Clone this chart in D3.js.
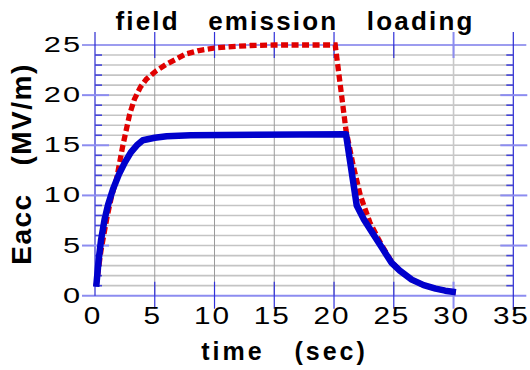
<!DOCTYPE html>
<html>
<head>
<meta charset="utf-8">
<script src="https://cdn.jsdelivr.net/npm/d3@7"></script>
<style>
  html, body { margin: 0; padding: 0; background: #fff; }
  svg { display: block; font-family: "Liberation Sans", Arial, sans-serif; }
</style>
</head>
<body>
<svg id="chart" width="530" height="370"></svg>
<script>
// values
const blueTime = [0.1, 0.3, 0.5, 0.8, 1.1, 1.5, 2, 2.5, 3, 3.5, 4, 5, 6, 8, 21, 21.9, 22.5, 23.3, 24, 24.8, 25.5, 26.5, 27.5, 28.5, 29.3, 30.2];
const blueEacc = [0.9, 3.5, 5.5, 7.6, 9.1, 10.6, 12.1, 13.3, 14.3, 15, 15.5, 15.75, 15.9, 16, 16.1, 9, 7.6, 6.1, 4.8, 3.3, 2.5, 1.6, 1.05, 0.7, 0.5, 0.35];

const redTime = [0.1, 0.5, 1, 1.4, 1.8, 2.3, 2.9, 3.3, 3.8, 4.3, 5.1, 6, 6.8, 7.6, 8.7, 10, 11, 13, 15, 20.1, 21, 21.6, 22.2, 23, 24, 24.8, 25.5, 26.5, 27.5, 28.5, 29.3, 30.2];
const redEacc = [1, 4.5, 7.8, 10, 11.6, 14.8, 18.1, 19.6, 20.8, 21.6, 22.4, 23.1, 23.6, 24.1, 24.45, 24.7, 24.8, 24.95, 25, 25, 16.5, 13, 10, 7.3, 5, 3.4, 2.5, 1.6, 1.05, 0.7, 0.5, 0.35];

const xTicks = [0, 5, 10, 15, 20, 25, 30, 35];
const yTicks = [0, 5, 10, 15, 20, 25];
const yMinor = d3.range(1, 25);

const svg = d3.select("#chart");

const x = d3.scaleLinear().domain([0, 35]).range([95, 513.3]);
const y = d3.scaleLinear().domain([0, 25]).range([295.7, 45]);

const xLeft = x(0), xRight = x(35), yTop = y(25), yBottom = y(0);

// horizontal grid
svg.append("g")
  .selectAll("line")
  .data(yMinor)
  .join("line")
  .attr("x1", xLeft).attr("x2", xRight)
  .attr("y1", d => y(d)).attr("y2", d => y(d))
  .attr("stroke", "#c4c4c4")
  .attr("stroke-width", 1.6);

// vertical grid
svg.append("g")
  .selectAll("line")
  .data(xTicks.filter(d => d > 0 && d < 35))
  .join("line")
  .attr("x1", d => x(d)).attr("x2", d => x(d))
  .attr("y1", yTop).attr("y2", yBottom)
  .attr("stroke", d => d === 30 ? "#c8c8c8" : "#9a9a9a")
  .attr("stroke-width", d => d === 30 ? 1.6 : 1);

// frame
svg.append("line")
  .attr("x1", xLeft - 13).attr("x2", xRight + 13)
  .attr("y1", yTop).attr("y2", yTop)
  .attr("stroke", "#3a3ae0").attr("stroke-width", 1.2);
svg.append("line")
  .attr("x1", xLeft - 13).attr("x2", xRight + 13)
  .attr("y1", yBottom).attr("y2", yBottom)
  .attr("stroke", "#8c8cf0").attr("stroke-width", 2);
svg.append("line")
  .attr("x1", xLeft).attr("x2", xLeft)
  .attr("y1", yTop - 13).attr("y2", yBottom)
  .attr("stroke", "#2a2ad0").attr("stroke-width", 1.2);
svg.append("line")
  .attr("x1", xRight).attr("x2", xRight)
  .attr("y1", yTop - 13).attr("y2", yBottom + 14)
  .attr("stroke", "#2a2ad0").attr("stroke-width", 1.2);

// minor y ticks, left and right, pointing inside
const minorTicks = yMinor.filter(d => d % 5 !== 0);
svg.append("g")
  .selectAll("line")
  .data(minorTicks)
  .join("line")
  .attr("x1", xLeft).attr("x2", xLeft + 7)
  .attr("y1", d => y(d)).attr("y2", d => y(d))
  .attr("stroke", "#4444d8").attr("stroke-width", 1.6);
svg.append("g")
  .selectAll("line")
  .data(minorTicks)
  .join("line")
  .attr("x1", xRight - 7).attr("x2", xRight)
  .attr("y1", d => y(d)).attr("y2", d => y(d))
  .attr("stroke", "#4444d8").attr("stroke-width", 1.6);

// major y ticks crossing both side axes
const majorY = yTicks.filter(d => d > 0 && d < 25);
svg.append("g")
  .selectAll("line")
  .data(majorY)
  .join("line")
  .attr("x1", xLeft - 13).attr("x2", xLeft + 14)
  .attr("y1", d => y(d)).attr("y2", d => y(d))
  .attr("stroke", "#8c8cf0").attr("stroke-width", 2);
svg.append("g")
  .selectAll("line")
  .data(majorY)
  .join("line")
  .attr("x1", xRight - 13).attr("x2", xRight + 14)
  .attr("y1", d => y(d)).attr("y2", d => y(d))
  .attr("stroke", "#8c8cf0").attr("stroke-width", 2);

// major x ticks crossing top and bottom
const majorX = xTicks.filter(d => d > 0 && d < 35);
svg.append("g")
  .selectAll("line")
  .data(majorX)
  .join("line")
  .attr("x1", d => x(d)).attr("x2", d => x(d))
  .attr("y1", yTop - 13).attr("y2", yTop + 13)
  .attr("stroke", d => d === 30 ? "#8c8cf0" : "#3030d8")
  .attr("stroke-width", d => d === 30 ? 2 : 1.2);
svg.append("g")
  .selectAll("line")
  .data(majorX)
  .join("line")
  .attr("x1", d => x(d)).attr("x2", d => x(d))
  .attr("y1", yBottom - 14).attr("y2", yBottom + 13)
  .attr("stroke", d => d === 30 ? "#8c8cf0" : "#3030d8")
  .attr("stroke-width", d => d === 30 ? 2 : 1.2);

// series
const line = d3.line().x(d => x(d[0])).y(d => y(d[1]));

svg.append("path")
  .datum(d3.zip(redTime, redEacc))
  .attr("d", line)
  .attr("fill", "none")
  .attr("stroke", "#e00000")
  .attr("stroke-width", 5.3)
  .attr("stroke-dasharray", "7,3.5");

svg.append("path")
  .datum(d3.zip(blueTime, blueEacc))
  .attr("d", line)
  .attr("fill", "none")
  .attr("stroke", "#0000cc")
  .attr("stroke-width", 6.5)
  .attr("stroke-linejoin", "round");

// tick labels (stretched wide like the original)
svg.append("g")
  .selectAll("text")
  .data(xTicks)
  .join("text")
  .attr("transform", d => `translate(${x(d) - 2},323.5) scale(1.24,1)`)
  .attr("text-anchor", "middle")
  .attr("font-size", 24)
  .attr("letter-spacing", 1.5)
  .attr("fill", "#000")
  .text(d => d);

svg.append("g")
  .selectAll("text")
  .data(yTicks)
  .join("text")
  .attr("transform", d => `translate(82,${y(d) + 7}) scale(1.4,1)`)
  .attr("text-anchor", "end")
  .attr("font-size", 22)
  .attr("letter-spacing", 1.4)
  .attr("fill", "#000")
  .text(d => d);

// titles
svg.append("text")
  .attr("x", 295).attr("y", 29.5)
  .attr("text-anchor", "middle")
  .attr("font-size", 26).attr("font-weight", "bold")
  .attr("letter-spacing", 2.2)
  .style("white-space", "pre")
  .text("field   emission   loading");

svg.append("text")
  .attr("x", 284.5).attr("y", 359.5)
  .attr("text-anchor", "middle")
  .attr("font-size", 25).attr("font-weight", "bold")
  .attr("letter-spacing", 3)
  .style("white-space", "pre")
  .text("time   (sec)");

svg.append("text")
  .attr("transform", "translate(31,164) rotate(-90)")
  .attr("text-anchor", "middle")
  .attr("font-size", 28).attr("font-weight", "bold")
  .attr("letter-spacing", 1.5)
  .style("white-space", "pre")
  .text("Eacc   (MV/m)");
</script>
</body>
</html>
